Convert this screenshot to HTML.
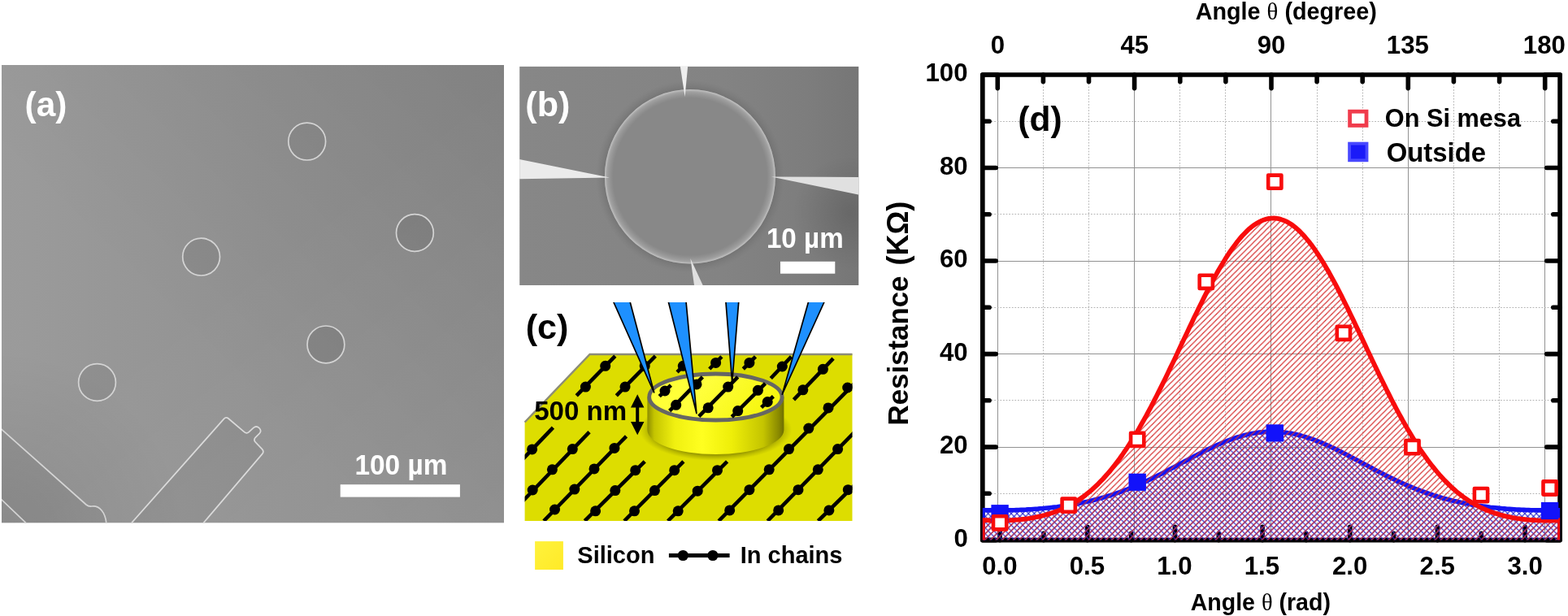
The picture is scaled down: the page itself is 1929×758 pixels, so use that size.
<!DOCTYPE html>
<html lang="en"><head><meta charset="utf-8"><title>Figure</title>
<style>
html,body{margin:0;padding:0;background:#fff;}
body{width:1929px;height:758px;overflow:hidden;position:relative;}
svg{position:absolute;left:0;top:0;display:block;}
text{font-family:"Liberation Sans", Arial, Helvetica, sans-serif;font-weight:bold;}
.th{font-family:"Liberation Serif", "Times New Roman", serif;font-weight:normal;}
</style></head><body>
<svg width="1929" height="758" viewBox="0 0 1929 758">
<defs>
<pattern id="hr" patternUnits="userSpaceOnUse" width="7.1" height="7.1" x="1.5" y="0">
<path d="M-1.5,8.6 L8.6,-1.5 M-1.5,1.5 L1.5,-1.5 M5.6,8.6 L8.6,5.6" stroke="#d42c2c" stroke-width="1.15" fill="none"/>
</pattern>
<pattern id="hb" patternUnits="userSpaceOnUse" width="7.1" height="7.1" x="1.5" y="0">
<path d="M-1.5,-1.5 L8.6,8.6 M5.6,-1.5 L8.6,1.5 M-1.5,5.6 L1.5,8.6" stroke="#2a2ad0" stroke-width="1.1" fill="none"/>
<path d="M-1.5,8.6 L8.6,-1.5 M-1.5,1.5 L1.5,-1.5 M5.6,8.6 L8.6,5.6" stroke="#2a2ad0" stroke-width="1.1" fill="none"/>
</pattern>
<linearGradient id="ga" x1="0" x2="1" y1="0" y2="0">
<stop offset="0" stop-color="#9b9b9b"/><stop offset="0.5" stop-color="#929292"/><stop offset="1" stop-color="#8b8b8b"/>
</linearGradient>
<linearGradient id="ga2" x1="1" x2="0.35" y1="0" y2="0.6">
<stop offset="0" stop-color="#000" stop-opacity="0.07"/><stop offset="1" stop-color="#000" stop-opacity="0"/>
</linearGradient>
<linearGradient id="ga3" x1="1" x2="0.5" y1="1" y2="0.4">
<stop offset="0" stop-color="#fff" stop-opacity="0.06"/><stop offset="1" stop-color="#fff" stop-opacity="0"/>
</linearGradient>
<radialGradient id="ga4" gradientUnits="userSpaceOnUse" cx="0" cy="660" r="230">
<stop offset="0" stop-color="#000" stop-opacity="0.11"/><stop offset="0.5" stop-color="#000" stop-opacity="0.045"/><stop offset="1" stop-color="#000" stop-opacity="0"/>
</radialGradient>
<linearGradient id="gb" x1="0" x2="1" y1="0" y2="0">
<stop offset="0" stop-color="#878787"/><stop offset="0.6" stop-color="#838383"/><stop offset="0.85" stop-color="#7d7d7d"/><stop offset="1" stop-color="#767676"/>
</linearGradient>
<radialGradient id="gb2" gradientUnits="userSpaceOnUse" cx="1045" cy="262" r="70">
<stop offset="0" stop-color="#000" stop-opacity="0.13"/><stop offset="1" stop-color="#000" stop-opacity="0"/>
</radialGradient>
<linearGradient id="cyl" x1="0" x2="1" y1="0" y2="0">
<stop offset="0" stop-color="#8c8c00"/><stop offset="0.05" stop-color="#c4c400"/><stop offset="0.2" stop-color="#f0f010"/><stop offset="0.4" stop-color="#ffff20"/><stop offset="0.62" stop-color="#eeee08"/><stop offset="0.85" stop-color="#c4c400"/><stop offset="0.96" stop-color="#8a8a00"/><stop offset="1" stop-color="#6e6e00"/>
</linearGradient>
<linearGradient id="mtop" x1="0" x2="1" y1="0" y2="0.3">
<stop offset="0" stop-color="#ffff30"/><stop offset="0.45" stop-color="#ffff3c"/><stop offset="1" stop-color="#f6f610"/>
</linearGradient>
<radialGradient id="shadow" cx="0.5" cy="0.5" r="0.5">
<stop offset="0.82" stop-color="#707000" stop-opacity="0.6"/><stop offset="1" stop-color="#909000" stop-opacity="0"/>
</radialGradient>
<clipPath id="cpa"><rect x="2" y="80" width="618" height="563.3"/></clipPath>
<clipPath id="cpb"><rect x="639.2" y="81.9" width="417.1" height="269.1"/></clipPath>
<clipPath id="cpc"><path d="M645.6,641 L645.6,518.5 L725.2,435.5 L1048.5,435.5 L1048.5,641 Z"/></clipPath>
<clipPath id="cpd"><rect x="1208.8" y="92" width="710.3" height="572.6"/></clipPath>
<radialGradient id="rim" cx="0.5" cy="0.5" r="0.5">
<stop offset="0.9" stop-color="#aaa" stop-opacity="0"/><stop offset="0.97" stop-color="#b4b4b4" stop-opacity="0.55"/><stop offset="1" stop-color="#c8c8c8" stop-opacity="0.95"/>
</radialGradient>
<radialGradient id="halo" cx="0.5" cy="0.5" r="0.5">
<stop offset="0.9" stop-color="#606060" stop-opacity="0.45"/><stop offset="1" stop-color="#707070" stop-opacity="0"/>
</radialGradient>
<linearGradient id="leg" x1="0" x2="1" y1="0" y2="1">
<stop offset="0" stop-color="#fff23c"/><stop offset="1" stop-color="#ffea28"/>
</linearGradient>
</defs>

<g id="pa">
<rect x="2" y="80" width="618" height="563.3" fill="url(#ga)"/>
<rect x="2" y="80" width="618" height="563.3" fill="url(#ga2)"/>
<rect x="2" y="80" width="618" height="563.3" fill="url(#ga3)"/>
<rect x="2" y="80" width="618" height="563.3" fill="url(#ga4)"/>
<g clip-path="url(#cpa)">
<path d="M160.5,645 L275.3,515.6 Q278,512.6 281,515 L300.6,531.6 Q303.4,534 306.2,531.6 L311.6,526.6 Q315.3,523.4 318.8,526.6 Q322.3,530 319.2,533.3 L314.2,538.3 Q311.6,541.2 314.2,544 L322.4,552.6 Q325.2,555.6 322.6,558.6 L249,645 Z" fill="#000" fill-opacity="0.035" stroke="#dadada" stroke-width="1.7"/>
<path d="M0,526.5 L106,621 Q109,623.5 113,623 Q120,622 125,628 Q130,634 131,645 L0,645 Z" fill="#000" fill-opacity="0.035" stroke="#d4d4d4" stroke-width="1.7"/>
<path d="M0,613 L33.5,645 L0,645 Z" fill="#fff" fill-opacity="0.03" stroke="#d4d4d4" stroke-width="1.7"/>
<circle cx="377.7" cy="174.1" r="22.9" fill="#000" fill-opacity="0.03" stroke="#d4d4d4" stroke-width="1.7"/>
<circle cx="510.4" cy="286.5" r="22.9" fill="#000" fill-opacity="0.07" stroke="#d4d4d4" stroke-width="1.7"/>
<circle cx="247.6" cy="316.1" r="22.9" fill="#000" fill-opacity="0.06" stroke="#d4d4d4" stroke-width="1.7"/>
<circle cx="400.9" cy="423.9" r="22.9" fill="#000" fill-opacity="0.085" stroke="#d4d4d4" stroke-width="1.7"/>
<circle cx="119.5" cy="470.5" r="22.9" fill="#000" fill-opacity="0.06" stroke="#d4d4d4" stroke-width="1.7"/>
</g>
<rect x="418.7" y="596.2" width="147.2" height="15.4" fill="#fff"/>
<text transform="translate(436.50,583.90) scale(1,1.03)" font-size="33.37" fill="#fff" xml:space="preserve">100 µm</text>
<text x="30.58" y="142.60" font-size="42.41" fill="#fff" xml:space="preserve">(a)</text>
</g>
<g id="pb">
<rect x="639.2" y="81.9" width="417.1" height="269.1" fill="url(#gb)"/>
<rect x="639.2" y="81.9" width="417.1" height="269.1" fill="url(#gb2)"/>
<g clip-path="url(#cpb)">
<ellipse cx="848.9" cy="217.3" rx="116" ry="118.5" fill="url(#halo)"/>
<ellipse cx="848.9" cy="217.3" rx="105" ry="107.3" fill="#888888"/>
<ellipse cx="848.9" cy="217.3" rx="105" ry="107.3" fill="url(#rim)"/>
<path d="M836.6,80 L846.3,80 L842.6,119 Z" fill="#eeeeee"/>
<path d="M637,195.5 L637,220.4 L750,218.6 Z" fill="#ebebeb"/>
<path d="M948.9,217.4 L1058,218 L1058,240 Z" fill="#e0e0e0"/>
<path d="M849.4,317.9 L854.3,353 L865.6,353 Z" fill="#e0e0e0"/>
</g>
<rect x="960" y="321.8" width="67.3" height="14.9" fill="#fff"/>
<text transform="translate(942.91,305.10) scale(1,1.03)" font-size="33.19" fill="#fff" xml:space="preserve">10 µm</text>
<text x="646.34" y="142.90" font-size="43.14" fill="#fff" xml:space="preserve">(b)</text>
</g>
<g id="pc">
<path d="M645.6,641 L645.6,518.5 L725.2,435.5 L1048.5,435.5 L1048.5,641 Z" fill="#dddd00"/>
<path d="M645.6,519.5 L725.6,436 L1048.5,436" fill="none" stroke="#8c8c78" stroke-width="2.4"/>
<g clip-path="url(#cpc)" stroke="#000" stroke-width="4.6" fill="#000">
<line x1="709.2" y1="486.8" x2="756.8" y2="438.2"/>
<circle cx="720.4" cy="476.1" r="6.5" stroke="none"/>
<circle cx="744.7" cy="450.3" r="6.5" stroke="none"/>
<line x1="758.3" y1="486.8" x2="806.3" y2="438.2"/>
<circle cx="769" cy="476.1" r="6.5" stroke="none"/>
<circle cx="793.2" cy="450.3" r="6.5" stroke="none"/>
<line x1="640" y1="568.3" x2="680.4" y2="526.2"/>
<circle cx="654.6" cy="552.9" r="6.5" stroke="none"/>
<line x1="640" y1="620" x2="725" y2="531.7"/>
<circle cx="655.2" cy="603" r="6.5" stroke="none"/>
<circle cx="679.4" cy="577.8" r="6.5" stroke="none"/>
<circle cx="704.3" cy="552.6" r="6.5" stroke="none"/>
<line x1="669" y1="641" x2="770.5" y2="536.8"/>
<circle cx="682.5" cy="627" r="6.5" stroke="none"/>
<circle cx="706.8" cy="602.1" r="6.5" stroke="none"/>
<circle cx="731" cy="576.9" r="6.5" stroke="none"/>
<circle cx="755.9" cy="551.4" r="6.5" stroke="none"/>
<line x1="719.4" y1="641" x2="793.2" y2="567.8"/>
<circle cx="732.6" cy="628.8" r="6.5" stroke="none"/>
<circle cx="756.8" cy="603.6" r="6.5" stroke="none"/>
<circle cx="781.7" cy="578.7" r="6.5" stroke="none"/>
<line x1="768" y1="641" x2="840.9" y2="567.8"/>
<circle cx="780.5" cy="628.8" r="6.5" stroke="none"/>
<circle cx="805.4" cy="603.6" r="6.5" stroke="none"/>
<circle cx="829.7" cy="578.7" r="6.5" stroke="none"/>
<line x1="821.7" y1="641" x2="894.6" y2="567.8"/>
<circle cx="834.2" cy="628.8" r="6.5" stroke="none"/>
<circle cx="858.2" cy="604.2" r="6.5" stroke="none"/>
<circle cx="882.5" cy="578.7" r="6.5" stroke="none"/>
<line x1="884.2" y1="641" x2="1052" y2="471"/>
<circle cx="897.7" cy="627.9" r="6.5" stroke="none"/>
<circle cx="921.9" cy="602.7" r="6.5" stroke="none"/>
<circle cx="946.2" cy="577.8" r="6.5" stroke="none"/>
<circle cx="970.5" cy="552.6" r="6.5" stroke="none"/>
<circle cx="994.8" cy="527.1" r="6.5" stroke="none"/>
<circle cx="1019" cy="501.9" r="6.5" stroke="none"/>
<circle cx="1042.7" cy="477" r="6.5" stroke="none"/>
<line x1="944.3" y1="641" x2="1052" y2="531"/>
<circle cx="957.7" cy="627.9" r="6.5" stroke="none"/>
<circle cx="982" cy="602.7" r="6.5" stroke="none"/>
<circle cx="1006.3" cy="577.8" r="6.5" stroke="none"/>
<circle cx="1030.6" cy="552.6" r="6.5" stroke="none"/>
<line x1="1006.5" y1="641" x2="1052" y2="596.3"/>
<circle cx="1019.9" cy="627.9" r="6.5" stroke="none"/>
<circle cx="1043.3" cy="602.7" r="6.5" stroke="none"/>
<line x1="976.5" y1="491.9" x2="1025.1" y2="441.2"/>
<circle cx="987.8" cy="479.8" r="6.5" stroke="none"/>
<circle cx="1012.4" cy="454.3" r="6.5" stroke="none"/>
<line x1="948.3" y1="465.5" x2="973.5" y2="438.8"/>
<circle cx="962.3" cy="451" r="6.5" stroke="none"/>
<line x1="872.8" y1="454" x2="887.9" y2="438.8"/>
<circle cx="880.6" cy="446.4" r="6.5" stroke="none"/>
<line x1="914.3" y1="454" x2="929.5" y2="438.8"/>
<circle cx="921.9" cy="446.4" r="6.5" stroke="none"/>
<line x1="833" y1="457.9" x2="848.2" y2="442.8"/>
<circle cx="840.3" cy="450.3" r="6.5" stroke="none"/>
</g>
<ellipse cx="880.4" cy="529" rx="94" ry="38" fill="url(#shadow)"/>
<path d="M796.4,488.5 L796.4,529 A84,30 0 0 0 964.4,529 L964.4,488.5 Z" fill="url(#cyl)"/>
<ellipse cx="880.4" cy="488.5" rx="81.7" ry="28.5" fill="url(#mtop)" stroke="#666664" stroke-width="4.8"/>
<g stroke="#000" stroke-width="4.6" fill="#000">
<line x1="811.2" y1="487.7" x2="825.4" y2="474"/>
<circle cx="818" cy="481" r="6.5" stroke="none"/>
<line x1="823.7" y1="505.6" x2="864.4" y2="463.9"/>
<circle cx="831.7" cy="498.3" r="6.5" stroke="none"/>
<circle cx="857" cy="472.9" r="6.5" stroke="none"/>
<line x1="859.8" y1="512.4" x2="907.7" y2="463.9"/>
<circle cx="871.2" cy="501.8" r="6.5" stroke="none"/>
<circle cx="895.7" cy="476.1" r="6.5" stroke="none"/>
<line x1="900.3" y1="513" x2="941.5" y2="471.9"/>
<circle cx="907.7" cy="505.6" r="6.5" stroke="none"/>
<circle cx="932.4" cy="480.3" r="6.5" stroke="none"/>
<line x1="936.6" y1="501.4" x2="951.4" y2="487.7"/>
<circle cx="944.2" cy="494.5" r="6.5" stroke="none"/>
</g>
<g fill="#1e90ff" stroke="#000" stroke-width="1.7" stroke-linejoin="round">
<path d="M754.5,371 L775,371 L804.6,482.8 Z"/>
<path d="M822.2,371 L844,371 L856.9,508.6 Z"/>
<path d="M892.9,371 L908.8,371 L900.7,470.6 Z"/>
<path d="M994.7,371 L1014.3,371 L962.3,485.2 Z"/>
</g>
<rect x="750" y="366" width="270" height="6" fill="#fff"/>
<text x="646.64" y="416.80" font-size="43.21" fill="#000" xml:space="preserve">(c)</text>
<text transform="translate(657.21,516.50) scale(1,1.03)" font-size="33.07" fill="#000" xml:space="preserve">500 nm</text>
<path d="M784.2,485.2 L792.4,501.5 L786.2,501.5 L786.2,519 L792.4,519 L784.2,535.2 L776,519 L782.2,519 L782.2,501.5 L776,501.5 Z" fill="#000"/>
<rect x="658.1" y="666.1" width="34.8" height="34.9" fill="url(#leg)"/>
<text x="710.33" y="692.70" font-size="29.00" fill="#000" xml:space="preserve">Silicon</text>
<line x1="822.9" y1="683.5" x2="897.6" y2="683.5" stroke="#000" stroke-width="4.8"/>
<circle cx="840.3" cy="683.5" r="6.6"/><circle cx="876.9" cy="683.5" r="6.6"/>
<text x="910.77" y="692.70" font-size="29.00" fill="#000" xml:space="preserve">In chains</text>
</g>
<g id="pd">
<g stroke="#929292" stroke-width="1" fill="none">
<line x1="1227.5" y1="92.0" x2="1227.5" y2="664.6"/>
<line x1="1395.5" y1="92.0" x2="1395.5" y2="664.6"/>
<line x1="1563.5" y1="92.0" x2="1563.5" y2="664.6"/>
<line x1="1732.5" y1="92.0" x2="1732.5" y2="664.6"/>
<line x1="1900.5" y1="92.0" x2="1900.5" y2="664.6"/>
<line x1="1208.8" y1="550.5" x2="1919.1" y2="550.5"/>
<line x1="1208.8" y1="435.5" x2="1919.1" y2="435.5"/>
<line x1="1208.8" y1="321.5" x2="1919.1" y2="321.5"/>
<line x1="1208.8" y1="206.5" x2="1919.1" y2="206.5"/>
</g>
<g stroke="#b4b4b4" stroke-width="1" fill="none" stroke-dasharray="1.8 1.8">
<line x1="1283.5" y1="92.0" x2="1283.5" y2="664.6"/>
<line x1="1339.5" y1="92.0" x2="1339.5" y2="664.6"/>
<line x1="1451.5" y1="92.0" x2="1451.5" y2="664.6"/>
<line x1="1507.5" y1="92.0" x2="1507.5" y2="664.6"/>
<line x1="1620.5" y1="92.0" x2="1620.5" y2="664.6"/>
<line x1="1676.5" y1="92.0" x2="1676.5" y2="664.6"/>
<line x1="1788.5" y1="92.0" x2="1788.5" y2="664.6"/>
<line x1="1844.5" y1="92.0" x2="1844.5" y2="664.6"/>
<line x1="1208.8" y1="607.5" x2="1919.1" y2="607.5"/>
<line x1="1208.8" y1="492.5" x2="1919.1" y2="492.5"/>
<line x1="1208.8" y1="378.5" x2="1919.1" y2="378.5"/>
<line x1="1208.8" y1="263.5" x2="1919.1" y2="263.5"/>
<line x1="1208.8" y1="149.5" x2="1919.1" y2="149.5"/>
</g>
<g stroke="#000" stroke-width="5.6" stroke-linecap="round" fill="none">
<line x1="1227.3" y1="92.0" x2="1227.3" y2="108.6"/>
<line x1="1283.4" y1="92.0" x2="1283.4" y2="100.4"/>
<line x1="1339.5" y1="92.0" x2="1339.5" y2="100.4"/>
<line x1="1395.6" y1="92.0" x2="1395.6" y2="108.6"/>
<line x1="1451.8" y1="92.0" x2="1451.8" y2="100.4"/>
<line x1="1507.9" y1="92.0" x2="1507.9" y2="100.4"/>
<line x1="1564.0" y1="92.0" x2="1564.0" y2="108.6"/>
<line x1="1620.1" y1="92.0" x2="1620.1" y2="100.4"/>
<line x1="1676.2" y1="92.0" x2="1676.2" y2="100.4"/>
<line x1="1732.3" y1="92.0" x2="1732.3" y2="108.6"/>
<line x1="1788.4" y1="92.0" x2="1788.4" y2="100.4"/>
<line x1="1844.6" y1="92.0" x2="1844.6" y2="100.4"/>
<line x1="1900.7" y1="92.0" x2="1900.7" y2="108.6"/>
<line x1="1230.1" y1="664.6" x2="1230.1" y2="648.4"/>
<line x1="1283.9" y1="664.6" x2="1283.9" y2="656.4"/>
<line x1="1337.8" y1="664.6" x2="1337.8" y2="648.4"/>
<line x1="1391.6" y1="664.6" x2="1391.6" y2="656.4"/>
<line x1="1445.4" y1="664.6" x2="1445.4" y2="648.4"/>
<line x1="1499.3" y1="664.6" x2="1499.3" y2="656.4"/>
<line x1="1553.1" y1="664.6" x2="1553.1" y2="648.4"/>
<line x1="1606.9" y1="664.6" x2="1606.9" y2="656.4"/>
<line x1="1660.8" y1="664.6" x2="1660.8" y2="648.4"/>
<line x1="1714.6" y1="664.6" x2="1714.6" y2="656.4"/>
<line x1="1768.4" y1="664.6" x2="1768.4" y2="648.4"/>
<line x1="1822.3" y1="664.6" x2="1822.3" y2="656.4"/>
<line x1="1876.1" y1="664.6" x2="1876.1" y2="648.4"/>
<line x1="1208.8" y1="664.6" x2="1225.2" y2="664.6"/>
<line x1="1919.1" y1="664.6" x2="1902.6999999999998" y2="664.6"/>
<line x1="1208.8" y1="607.3" x2="1217.1" y2="607.3"/>
<line x1="1919.1" y1="607.3" x2="1910.8" y2="607.3"/>
<line x1="1208.8" y1="550.1" x2="1225.2" y2="550.1"/>
<line x1="1919.1" y1="550.1" x2="1902.6999999999998" y2="550.1"/>
<line x1="1208.8" y1="492.8" x2="1217.1" y2="492.8"/>
<line x1="1919.1" y1="492.8" x2="1910.8" y2="492.8"/>
<line x1="1208.8" y1="435.6" x2="1225.2" y2="435.6"/>
<line x1="1919.1" y1="435.6" x2="1902.6999999999998" y2="435.6"/>
<line x1="1208.8" y1="378.3" x2="1217.1" y2="378.3"/>
<line x1="1919.1" y1="378.3" x2="1910.8" y2="378.3"/>
<line x1="1208.8" y1="321.0" x2="1225.2" y2="321.0"/>
<line x1="1919.1" y1="321.0" x2="1902.6999999999998" y2="321.0"/>
<line x1="1208.8" y1="263.8" x2="1217.1" y2="263.8"/>
<line x1="1919.1" y1="263.8" x2="1910.8" y2="263.8"/>
<line x1="1208.8" y1="206.5" x2="1225.2" y2="206.5"/>
<line x1="1919.1" y1="206.5" x2="1902.6999999999998" y2="206.5"/>
<line x1="1208.8" y1="149.3" x2="1217.1" y2="149.3"/>
<line x1="1919.1" y1="149.3" x2="1910.8" y2="149.3"/>
<line x1="1208.8" y1="92.0" x2="1225.2" y2="92.0"/>
<line x1="1919.1" y1="92.0" x2="1902.6999999999998" y2="92.0"/>
</g>
<rect x="1208.8" y="92.0" width="710.3" height="572.6" fill="none" stroke="#000" stroke-width="5.7" stroke-linejoin="round"/>
<g clip-path="url(#cpd)">
<path d="M1208.8,668.6 L1208.8,627.7 L1211.8,627.8 L1214.7,627.9 L1217.7,627.9 L1220.6,627.9 L1223.6,628.0 L1226.6,628.0 L1229.5,628.0 L1232.5,627.9 L1235.4,627.9 L1238.4,627.9 L1241.4,627.8 L1244.3,627.7 L1247.3,627.7 L1250.2,627.6 L1253.2,627.5 L1256.2,627.3 L1259.1,627.2 L1262.1,627.1 L1265.0,626.9 L1268.0,626.7 L1271.0,626.5 L1273.9,626.3 L1276.9,626.1 L1279.8,625.8 L1282.8,625.6 L1285.7,625.3 L1288.7,625.0 L1291.7,624.7 L1294.6,624.4 L1297.6,624.0 L1300.5,623.7 L1303.5,623.3 L1306.5,622.9 L1309.4,622.5 L1312.4,622.0 L1315.3,621.5 L1318.3,621.0 L1321.3,620.5 L1324.2,620.0 L1327.2,619.4 L1330.1,618.8 L1333.1,618.2 L1336.1,617.6 L1339.0,616.9 L1342.0,616.2 L1344.9,615.5 L1347.9,614.7 L1350.9,613.9 L1353.8,613.1 L1356.8,612.3 L1359.7,611.4 L1362.7,610.5 L1365.7,609.6 L1368.6,608.6 L1371.6,607.7 L1374.5,606.6 L1377.5,605.6 L1380.5,604.5 L1383.4,603.4 L1386.4,602.3 L1389.3,601.1 L1392.3,599.9 L1395.3,598.7 L1398.2,597.4 L1401.2,596.1 L1404.1,594.8 L1407.1,593.5 L1410.1,592.1 L1413.0,590.7 L1416.0,589.3 L1418.9,587.8 L1421.9,586.4 L1424.8,584.9 L1427.8,583.4 L1430.8,581.9 L1433.7,580.4 L1436.7,578.8 L1439.6,577.3 L1442.6,575.7 L1445.6,574.1 L1448.5,572.6 L1451.5,571.0 L1454.4,569.4 L1457.4,567.8 L1460.4,566.2 L1463.3,564.6 L1466.3,563.1 L1469.2,561.5 L1472.2,560.0 L1475.2,558.4 L1478.1,556.9 L1481.1,555.4 L1484.0,554.0 L1487.0,552.5 L1490.0,551.1 L1492.9,549.7 L1495.9,548.3 L1498.8,547.0 L1501.8,545.7 L1504.8,544.5 L1507.7,543.3 L1510.7,542.1 L1513.6,541.0 L1516.6,540.0 L1519.6,539.0 L1522.5,538.0 L1525.5,537.1 L1528.4,536.3 L1531.4,535.5 L1534.4,534.8 L1537.3,534.1 L1540.3,533.5 L1543.2,533.0 L1546.2,532.5 L1549.2,532.1 L1552.1,531.8 L1555.1,531.5 L1558.0,531.3 L1561.0,531.2 L1563.9,531.1 L1566.9,531.1 L1569.9,531.2 L1572.8,531.4 L1575.8,531.6 L1578.7,531.9 L1581.7,532.2 L1584.7,532.7 L1587.6,533.1 L1590.6,533.7 L1593.5,534.3 L1596.5,535.0 L1599.5,535.8 L1602.4,536.6 L1605.4,537.4 L1608.3,538.3 L1611.3,539.3 L1614.3,540.4 L1617.2,541.4 L1620.2,542.6 L1623.1,543.7 L1626.1,544.9 L1629.1,546.2 L1632.0,547.5 L1635.0,548.8 L1637.9,550.2 L1640.9,551.6 L1643.9,553.0 L1646.8,554.5 L1649.8,556.0 L1652.7,557.5 L1655.7,559.0 L1658.7,560.5 L1661.6,562.1 L1664.6,563.7 L1667.5,565.2 L1670.5,566.8 L1673.5,568.4 L1676.4,570.0 L1679.4,571.6 L1682.3,573.1 L1685.3,574.7 L1688.3,576.3 L1691.2,577.9 L1694.2,579.4 L1697.1,580.9 L1700.1,582.5 L1703.1,584.0 L1706.0,585.5 L1709.0,586.9 L1711.9,588.4 L1714.9,589.8 L1717.8,591.2 L1720.8,592.6 L1723.8,594.0 L1726.7,595.3 L1729.7,596.6 L1732.6,597.9 L1735.6,599.1 L1738.6,600.3 L1741.5,601.5 L1744.5,602.7 L1747.4,603.8 L1750.4,604.9 L1753.4,606.0 L1756.3,607.0 L1759.3,608.0 L1762.2,609.0 L1765.2,609.9 L1768.2,610.9 L1771.1,611.8 L1774.1,612.6 L1777.0,613.4 L1780.0,614.2 L1783.0,615.0 L1785.9,615.7 L1788.9,616.5 L1791.8,617.1 L1794.8,617.8 L1797.8,618.4 L1800.7,619.0 L1803.7,619.6 L1806.6,620.2 L1809.6,620.7 L1812.6,621.2 L1815.5,621.7 L1818.5,622.2 L1821.4,622.6 L1824.4,623.0 L1827.4,623.4 L1830.3,623.8 L1833.3,624.2 L1836.2,624.5 L1839.2,624.8 L1842.2,625.1 L1845.1,625.4 L1848.1,625.7 L1851.0,625.9 L1854.0,626.2 L1856.9,626.4 L1859.9,626.6 L1862.9,626.8 L1865.8,627.0 L1868.8,627.1 L1871.7,627.3 L1874.7,627.4 L1877.7,627.5 L1880.6,627.6 L1883.6,627.7 L1886.5,627.8 L1889.5,627.8 L1892.5,627.9 L1895.4,627.9 L1898.4,628.0 L1901.3,628.0 L1904.3,628.0 L1907.3,627.9 L1910.2,627.9 L1913.2,627.9 L1916.1,627.8 L1919.1,627.8 L1919.1,668.6" fill="url(#hb)" stroke="#1414f4" stroke-width="5.6" stroke-linejoin="round"/>
<path d="M1208.8,668.6 L1208.8,639.9 L1211.8,640.1 L1214.7,640.2 L1217.7,640.4 L1220.6,640.5 L1223.6,640.5 L1226.6,640.6 L1229.5,640.6 L1232.5,640.5 L1235.4,640.5 L1238.4,640.4 L1241.4,640.3 L1244.3,640.1 L1247.3,639.9 L1250.2,639.7 L1253.2,639.5 L1256.2,639.2 L1259.1,638.8 L1262.1,638.5 L1265.0,638.0 L1268.0,637.6 L1271.0,637.1 L1273.9,636.5 L1276.9,635.9 L1279.8,635.3 L1282.8,634.5 L1285.7,633.8 L1288.7,632.9 L1291.7,632.0 L1294.6,631.1 L1297.6,630.0 L1300.5,628.9 L1303.5,627.7 L1306.5,626.5 L1309.4,625.1 L1312.4,623.7 L1315.3,622.1 L1318.3,620.5 L1321.3,618.8 L1324.2,617.0 L1327.2,615.0 L1330.1,613.0 L1333.1,610.9 L1336.1,608.6 L1339.0,606.2 L1342.0,603.8 L1344.9,601.2 L1347.9,598.4 L1350.9,595.6 L1353.8,592.6 L1356.8,589.5 L1359.7,586.3 L1362.7,582.9 L1365.7,579.5 L1368.6,575.8 L1371.6,572.1 L1374.5,568.2 L1377.5,564.2 L1380.5,560.0 L1383.4,555.7 L1386.4,551.3 L1389.3,546.8 L1392.3,542.1 L1395.3,537.3 L1398.2,532.4 L1401.2,527.4 L1404.1,522.3 L1407.1,517.0 L1410.1,511.6 L1413.0,506.2 L1416.0,500.6 L1418.9,494.9 L1421.9,489.2 L1424.8,483.3 L1427.8,477.4 L1430.8,471.4 L1433.7,465.4 L1436.7,459.2 L1439.6,453.1 L1442.6,446.9 L1445.6,440.7 L1448.5,434.4 L1451.5,428.1 L1454.4,421.8 L1457.4,415.5 L1460.4,409.3 L1463.3,403.0 L1466.3,396.8 L1469.2,390.6 L1472.2,384.5 L1475.2,378.4 L1478.1,372.4 L1481.1,366.4 L1484.0,360.6 L1487.0,354.8 L1490.0,349.2 L1492.9,343.7 L1495.9,338.3 L1498.8,333.0 L1501.8,327.9 L1504.8,323.0 L1507.7,318.2 L1510.7,313.6 L1513.6,309.1 L1516.6,304.9 L1519.6,300.9 L1522.5,297.0 L1525.5,293.4 L1528.4,290.0 L1531.4,286.9 L1534.4,283.9 L1537.3,281.2 L1540.3,278.8 L1543.2,276.6 L1546.2,274.7 L1549.2,273.0 L1552.1,271.6 L1555.1,270.4 L1558.0,269.5 L1561.0,268.9 L1563.9,268.6 L1566.9,268.5 L1569.9,268.7 L1572.8,269.1 L1575.8,269.9 L1578.7,270.9 L1581.7,272.2 L1584.7,273.7 L1587.6,275.5 L1590.6,277.5 L1593.5,279.8 L1596.5,282.4 L1599.5,285.2 L1602.4,288.2 L1605.4,291.5 L1608.3,295.0 L1611.3,298.7 L1614.3,302.6 L1617.2,306.7 L1620.2,311.1 L1623.1,315.6 L1626.1,320.3 L1629.1,325.1 L1632.0,330.2 L1635.0,335.3 L1637.9,340.6 L1640.9,346.1 L1643.9,351.7 L1646.8,357.4 L1649.8,363.1 L1652.7,369.0 L1655.7,375.0 L1658.7,381.0 L1661.6,387.2 L1664.6,393.3 L1667.5,399.5 L1670.5,405.8 L1673.5,412.0 L1676.4,418.3 L1679.4,424.6 L1682.3,430.9 L1685.3,437.1 L1688.3,443.4 L1691.2,449.6 L1694.2,455.8 L1697.1,461.9 L1700.1,468.0 L1703.1,474.0 L1706.0,480.0 L1709.0,485.9 L1711.9,491.7 L1714.9,497.4 L1717.8,503.0 L1720.8,508.6 L1723.8,514.0 L1726.7,519.3 L1729.7,524.5 L1732.6,529.6 L1735.6,534.6 L1738.6,539.5 L1741.5,544.2 L1744.5,548.8 L1747.4,553.3 L1750.4,557.6 L1753.4,561.9 L1756.3,566.0 L1759.3,569.9 L1762.2,573.7 L1765.2,577.4 L1768.2,581.0 L1771.1,584.4 L1774.1,587.7 L1777.0,590.9 L1780.0,593.9 L1783.0,596.9 L1785.9,599.7 L1788.9,602.3 L1791.8,604.9 L1794.8,607.3 L1797.8,609.6 L1800.7,611.8 L1803.7,613.9 L1806.6,615.9 L1809.6,617.8 L1812.6,619.5 L1815.5,621.2 L1818.5,622.8 L1821.4,624.3 L1824.4,625.7 L1827.4,627.0 L1830.3,628.3 L1833.3,629.4 L1836.2,630.5 L1839.2,631.5 L1842.2,632.4 L1845.1,633.3 L1848.1,634.1 L1851.0,634.9 L1854.0,635.6 L1856.9,636.2 L1859.9,636.8 L1862.9,637.3 L1865.8,637.8 L1868.8,638.2 L1871.7,638.6 L1874.7,639.0 L1877.7,639.3 L1880.6,639.6 L1883.6,639.8 L1886.5,640.0 L1889.5,640.2 L1892.5,640.3 L1895.4,640.4 L1898.4,640.5 L1901.3,640.6 L1904.3,640.6 L1907.3,640.5 L1910.2,640.5 L1913.2,640.4 L1916.1,640.3 L1919.1,640.2 L1919.1,668.6" fill="url(#hr)" stroke="#f80c0c" stroke-width="5.8" stroke-linejoin="round"/>
</g>
<rect x="1219.4" y="621.1" width="21.4" height="21.2" fill="#1212fa"/>
<rect x="1388.5" y="582.7" width="21.4" height="21.2" fill="#1212fa"/>
<rect x="1557.6" y="522.3" width="21.4" height="21.2" fill="#1212fa"/>
<rect x="1895.9" y="617.9" width="21.4" height="21.2" fill="#1212fa"/>
<rect x="1222.0" y="635.2" width="16.2" height="16.2" fill="#fff" stroke="#f80c0c" stroke-width="4.6" stroke-linejoin="round"/>
<rect x="1306.6" y="613.6" width="16.2" height="16.2" fill="#fff" stroke="#f80c0c" stroke-width="4.6" stroke-linejoin="round"/>
<rect x="1391.1" y="532.8" width="16.2" height="16.2" fill="#fff" stroke="#f80c0c" stroke-width="4.6" stroke-linejoin="round"/>
<rect x="1475.7" y="338.7" width="16.2" height="16.2" fill="#fff" stroke="#f80c0c" stroke-width="4.6" stroke-linejoin="round"/>
<rect x="1560.2" y="215.6" width="16.2" height="16.2" fill="#fff" stroke="#f80c0c" stroke-width="4.6" stroke-linejoin="round"/>
<rect x="1644.8" y="401.7" width="16.2" height="16.2" fill="#fff" stroke="#f80c0c" stroke-width="4.6" stroke-linejoin="round"/>
<rect x="1729.4" y="542.0" width="16.2" height="16.2" fill="#fff" stroke="#f80c0c" stroke-width="4.6" stroke-linejoin="round"/>
<rect x="1813.9" y="601.0" width="16.2" height="16.2" fill="#fff" stroke="#f80c0c" stroke-width="4.6" stroke-linejoin="round"/>
<rect x="1898.5" y="592.4" width="16.2" height="16.2" fill="#fff" stroke="#f80c0c" stroke-width="4.6" stroke-linejoin="round"/>
<rect x="1660.6" y="137.2" width="20.4" height="17.2" fill="#fff" stroke="#f03c4c" stroke-width="4.8"/>
<rect x="1658.2" y="174.7" width="25.2" height="24.5" fill="#4848ff"/>
<rect x="1662" y="178.5" width="17.6" height="16.9" fill="#1a1af8"/>
<text x="1703.87" y="155.70" font-size="30.70" fill="#000" xml:space="preserve">On Si mesa</text>
<text x="1705.68" y="199.20" font-size="32.88" fill="#000" xml:space="preserve">Outside</text>
<text x="1252.27" y="161.40" font-size="42.54" fill="#000" xml:space="preserve">(d)</text>
<text transform="translate(1218.72,66.00) scale(1,1.02)" font-size="31.20" fill="#000" xml:space="preserve">0</text>
<text transform="translate(1378.48,66.00) scale(1,1.02)" font-size="31.20" fill="#000" xml:space="preserve">45</text>
<text transform="translate(1546.67,66.00) scale(1,1.02)" font-size="31.20" fill="#000" xml:space="preserve">90</text>
<text transform="translate(1705.82,66.00) scale(1,1.02)" font-size="31.20" fill="#000" xml:space="preserve">135</text>
<text transform="translate(1873.82,66.00) scale(1,1.02)" font-size="31.20" fill="#000" xml:space="preserve">180</text>
<text transform="translate(1208.22,706.80) scale(1,1.02)" font-size="31.20" fill="#000" xml:space="preserve">0.0</text>
<text transform="translate(1315.72,706.80) scale(1,1.02)" font-size="31.20" fill="#000" xml:space="preserve">0.5</text>
<text transform="translate(1423.23,706.80) scale(1,1.02)" font-size="31.20" fill="#000" xml:space="preserve">1.0</text>
<text transform="translate(1530.74,706.80) scale(1,1.02)" font-size="31.20" fill="#000" xml:space="preserve">1.5</text>
<text transform="translate(1639.03,706.80) scale(1,1.02)" font-size="31.20" fill="#000" xml:space="preserve">2.0</text>
<text transform="translate(1746.54,706.80) scale(1,1.02)" font-size="31.20" fill="#000" xml:space="preserve">2.5</text>
<text transform="translate(1854.52,706.80) scale(1,1.02)" font-size="31.20" fill="#000" xml:space="preserve">3.0</text>
<text transform="translate(1173.39,672.60) scale(1,1.02)" font-size="31.20" fill="#000" xml:space="preserve">0</text>
<text transform="translate(1155.92,558.08) scale(1,1.02)" font-size="31.20" fill="#000" xml:space="preserve">20</text>
<text transform="translate(1155.92,443.56) scale(1,1.02)" font-size="31.20" fill="#000" xml:space="preserve">40</text>
<text transform="translate(1155.92,329.04) scale(1,1.02)" font-size="31.20" fill="#000" xml:space="preserve">60</text>
<text transform="translate(1155.92,214.52) scale(1,1.02)" font-size="31.20" fill="#000" xml:space="preserve">80</text>
<text transform="translate(1138.44,100.00) scale(1,1.02)" font-size="31.20" fill="#000" xml:space="preserve">100</text>
<text transform="translate(1470.64,23.80) scale(1,1.04)" font-size="28.78" fill="#000" xml:space="preserve">Angle <tspan class="th">θ</tspan> (degree)</text>
<text transform="translate(1464.64,751.20) scale(1,1.04)" font-size="28.56" fill="#000" xml:space="preserve">Angle <tspan class="th">θ</tspan> (rad)</text>
<text transform="translate(1117.4,523.44) rotate(-90) scale(1,1.02)" font-size="34.83" xml:space="preserve">Resistance</text>
<text transform="translate(1117.4,326.60) rotate(-90) scale(1,1.0)" font-size="36.03" xml:space="preserve">(KΩ)</text>
</g>
</svg>
</body></html>
